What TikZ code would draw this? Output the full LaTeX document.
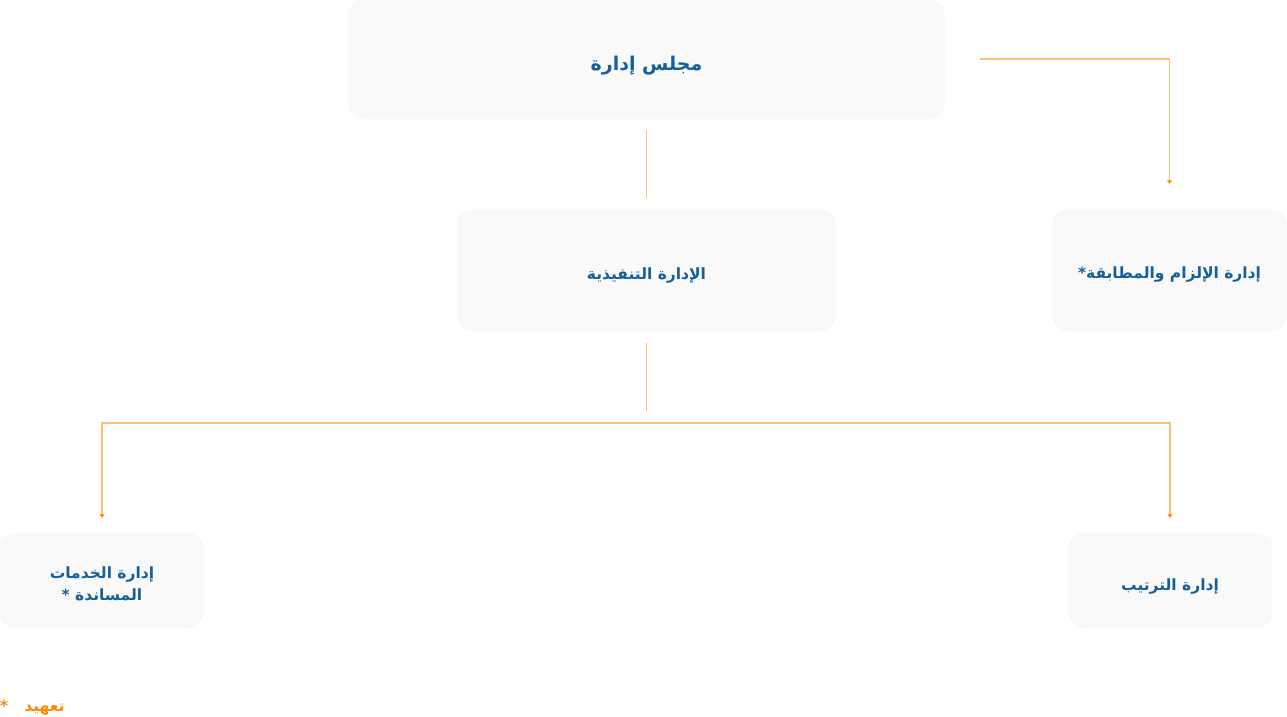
\documentclass[tikz,border=0pt]{standalone}
\usepackage{fontspec}
\usetikzlibrary{arrows.meta}
\newfontfamily\arabicfont[Script=Arabic]{DejaVu Sans}
\TeXXeTstate=1
\definecolor{boxfill}{HTML}{F9F9F9}
\definecolor{txtblue}{HTML}{15609C}
\definecolor{lineor}{HTML}{FFBE78}
\definecolor{tipor}{HTML}{FF8A00}
\definecolor{noteor}{HTML}{FF8A00}
\begin{document}
\begin{tikzpicture}[x=1pt,y=-1pt,
  orgbox/.style={fill=boxfill,draw=none,rounded corners=15pt,inner sep=0pt},
  boxtext/.style={inner sep=0pt,text=txtblue,font=\arabicfont\bfseries\fontsize{15.5}{22}\selectfont,align=center},
  conn/.style={draw=lineor,line width=1.5pt},
  tipd/.style={conn,-{Triangle[width=5pt,length=3.5pt,color=tipor]}},
  tipboth/.style={conn,{Triangle[width=5pt,length=3.5pt,color=tipor]}-{Triangle[width=5pt,length=3.5pt,color=tipor]}}]
\useasboundingbox (0,0) rectangle (1287,717);
\node[orgbox,minimum width=597pt,minimum height=119pt] (board) at (646.5,59.5) {};
\node[orgbox,minimum width=379pt,minimum height=121pt] (exec) at (646.5,270.5) {};
\node[orgbox,minimum width=235pt,minimum height=121pt] (comp) at (1169.5,270.5) {};
\node[orgbox,minimum width=204pt,minimum height=95pt] (supp) at (102,580.5) {};
\node[orgbox,minimum width=204pt,minimum height=95pt] (arr) at (1170,580.5) {};
\node[boxtext,font=\arabicfont\bfseries\fontsize{19}{22}\selectfont] (boardtxt) at ([yshift=-6.5pt]board.center) {\beginR مجلس إدارة\endR};
\node[boxtext] (exectxt) at ([yshift=-5pt]exec.center) {\beginR الإدارة التنفيذية\endR};
\node[boxtext] (comptxt) at ([yshift=-4pt]comp.center) {\beginR إدارة الإلزام والمطابقة*\endR};
\node[boxtext] (supptxt) at ([yshift=-3pt]supp.center) {\beginR إدارة الخدمات\endR\\\beginR المساندة *\endR};
\node[boxtext] (arrtxt) at ([yshift=-6pt]arr.center) {\beginR إدارة الترتيب\endR};
\node[anchor=west,inner sep=0pt,text=noteor,font=\arabicfont\bfseries\fontsize{15.5}{18}\selectfont] (note) at (0,708) {\beginR تعهيد\hspace{16pt}*\endR};
\coordinate (hbar) at (646.5,423);
\draw[conn] ([yshift=-11pt]board.south) -- ([yshift=12pt]exec.north);
\draw[tipd] ([xshift=35pt,yshift=0.5pt]board.east) -| ([yshift=26pt]comp.north);
\draw[conn] ([yshift=-12pt]exec.south) -- ([yshift=-80pt]exec.south);
\draw[tipboth] ([yshift=15pt]supp.north) |- (hbar) -| ([yshift=15pt]arr.north);
\end{tikzpicture}
\end{document}
